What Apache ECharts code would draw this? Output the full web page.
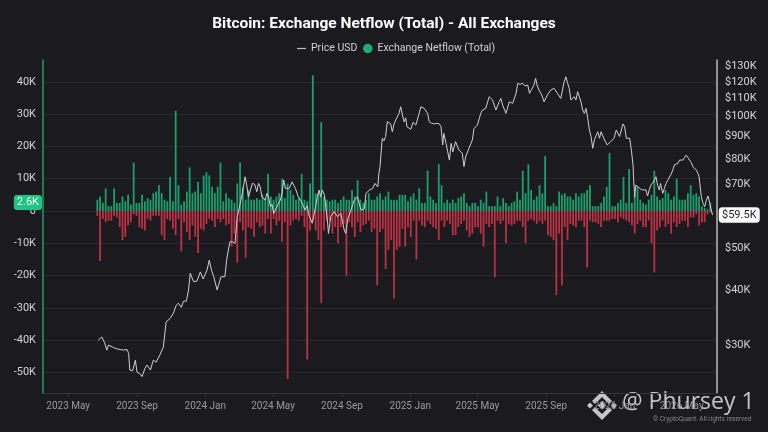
<!DOCTYPE html>
<html>
<head>
<meta charset="utf-8">
<script src="https://cdn.jsdelivr.net/npm/echarts@6.0.0/dist/echarts.min.js"></script>
<style>
html,body{margin:0;padding:0;background:#1b1b1f;}
#chart{width:768px;height:432px;}
</style>
</head>
<body>
<div id="chart"></div>
<script>
// ---------- DATA ----------
const chartTitle = 'Bitcoin: Exchange Netflow (Total) - All Exchanges';
const priceName = 'Price USD';
const netflowName = 'Exchange Netflow (Total)';

// x-axis tick labels
const xTickDates = ['2023-05-01','2023-09-01','2024-01-01','2024-05-01','2024-09-01','2025-01-01','2025-05-01','2025-09-01','2026-01-01','2026-05-01'];
const xRange = ['2023-03-17','2026-07-03'];
const netflowTicks = [-50000,-40000,-30000,-20000,-10000,0,10000,20000,30000,40000];
const priceTicks = [30000,40000,50000,70000,80000,90000,100000,110000,120000,130000];

// BTC price (USD)
const priceDates = ['2023-06-24','2023-06-30','2023-07-05','2023-07-09','2023-07-12','2023-07-15','2023-07-21','2023-07-27','2023-08-02','2023-08-08','2023-08-14','2023-08-17','2023-08-19','2023-08-24','2023-08-29','2023-09-01','2023-09-06','2023-09-10','2023-09-15','2023-09-19','2023-09-25','2023-09-30','2023-10-05','2023-10-12','2023-10-18','2023-10-23','2023-10-30','2023-11-05','2023-11-10','2023-11-14','2023-11-19','2023-11-23','2023-11-28','2023-12-02','2023-12-05','2023-12-11','2023-12-17','2023-12-23','2023-12-28','2024-01-04','2024-01-08','2024-01-12','2024-01-16','2024-01-22','2024-01-29','2024-02-05','2024-02-08','2024-02-11','2024-02-14','2024-02-19','2024-02-23','2024-02-27','2024-03-03','2024-03-07','2024-03-12','2024-03-15','2024-03-18','2024-03-21','2024-03-25','2024-03-29','2024-04-02','2024-04-05','2024-04-08','2024-04-11','2024-04-17','2024-04-20','2024-04-23','2024-04-26','2024-04-29','2024-05-02','2024-05-08','2024-05-14','2024-05-17','2024-05-20','2024-05-23','2024-05-26','2024-05-30','2024-06-04','2024-06-07','2024-06-10','2024-06-15','2024-06-19','2024-06-22','2024-06-27','2024-07-01','2024-07-04','2024-07-10','2024-07-16','2024-07-19','2024-07-22','2024-07-25','2024-07-28','2024-08-01','2024-08-03','2024-08-06','2024-08-08','2024-08-12','2024-08-18','2024-08-24','2024-08-30','2024-09-05','2024-09-08','2024-09-11','2024-09-17','2024-09-23','2024-09-29','2024-10-05','2024-10-11','2024-10-14','2024-10-20','2024-10-26','2024-10-30','2024-11-04','2024-11-06','2024-11-08','2024-11-12','2024-11-15','2024-11-18','2024-11-21','2024-11-27','2024-11-30','2024-12-03','2024-12-06','2024-12-12','2024-12-15','2024-12-18','2024-12-21','2024-12-24','2024-12-26','2025-01-02','2025-01-06','2025-01-11','2025-01-17','2025-01-20','2025-01-26','2025-02-01','2025-02-04','2025-02-08','2025-02-13','2025-02-18','2025-02-22','2025-02-25','2025-02-28','2025-03-02','2025-03-06','2025-03-09','2025-03-12','2025-03-15','2025-03-18','2025-03-20','2025-03-23','2025-03-29','2025-04-04','2025-04-07','2025-04-10','2025-04-16','2025-04-22','2025-04-25','2025-05-01','2025-05-07','2025-05-10','2025-05-16','2025-05-22','2025-05-28','2025-06-03','2025-06-09','2025-06-12','2025-06-15','2025-06-21','2025-06-27','2025-07-03','2025-07-09','2025-07-12','2025-07-16','2025-07-21','2025-07-25','2025-07-30','2025-08-02','2025-08-06','2025-08-10','2025-08-13','2025-08-16','2025-08-19','2025-08-24','2025-08-28','2025-09-03','2025-09-09','2025-09-15','2025-09-21','2025-09-27','2025-10-03','2025-10-06','2025-10-09','2025-10-12','2025-10-15','2025-10-21','2025-10-24','2025-10-27','2025-11-02','2025-11-05','2025-11-08','2025-11-11','2025-11-14','2025-11-17','2025-11-20','2025-11-23','2025-11-26','2025-11-29','2025-12-02','2025-12-05','2025-12-08','2025-12-14','2025-12-19','2025-12-25','2025-12-31','2026-01-04','2026-01-07','2026-01-10','2026-01-16','2026-01-19','2026-01-22','2026-01-28','2026-01-31','2026-02-03','2026-02-04','2026-02-06','2026-02-08','2026-02-12','2026-02-15','2026-02-18','2026-02-21','2026-02-26','2026-03-01','2026-03-04','2026-03-07','2026-03-10','2026-03-13','2026-03-16','2026-03-19','2026-03-22','2026-03-24','2026-03-28','2026-03-31','2026-04-03','2026-04-06','2026-04-09','2026-04-12','2026-04-15','2026-04-18','2026-04-21','2026-04-24','2026-04-27','2026-04-30','2026-05-03','2026-05-06','2026-05-09','2026-05-12','2026-05-15','2026-05-18','2026-05-21','2026-05-24','2026-05-27','2026-05-30','2026-06-01','2026-06-05','2026-06-08','2026-06-11','2026-06-14','2026-06-17','2026-06-20','2026-06-23','2026-06-25'];
const priceValues = [30800,31300,30400,29200,30000,29700,29600,29400,29300,29200,29300,28700,26300,26200,27700,26000,25800,25400,26500,27000,26300,27700,27400,28500,29700,33900,34500,35500,37000,37400,36600,37800,37800,40100,43800,41900,42000,44100,42500,44500,46900,44500,43000,40100,43000,43000,46900,49500,51700,51700,51200,59000,63000,66700,72800,69500,65500,67500,70300,70000,67300,70300,69000,65500,64400,66700,65500,62200,63000,60000,62200,64400,66700,71600,68500,69100,68500,70900,69600,68400,65500,64400,63300,61100,62500,59500,57000,62200,65500,67900,65500,67900,66000,62000,58000,54000,59000,60600,59000,60000,55000,54000,58000,61100,64400,65500,61100,61500,66700,67900,68500,70300,69000,74000,76800,89200,88000,90000,97300,96200,92300,96000,98200,101700,105300,101000,97300,99300,94800,93500,97000,95600,101700,105300,104400,101700,97300,96500,96200,96500,96200,94800,86100,91500,86800,83000,79500,86800,83000,83800,87600,83800,82400,76800,80900,84600,88400,93900,95600,101700,103500,104400,111000,109100,103500,108100,110000,106200,101700,108100,107200,113000,119100,118500,119100,117500,118000,113000,115500,118000,122300,117500,115000,112000,108100,112000,115000,116000,113000,110000,120100,123300,119500,116000,109100,111000,109100,114000,108100,103500,101700,104400,99300,93100,90000,84600,88400,90500,92300,89200,92300,88400,86100,87600,89200,93100,93900,90000,96200,94800,89200,89200,83800,77500,72200,65500,69700,69000,69100,68000,67300,67900,65800,68000,69700,70500,71500,72800,69500,67900,70300,66700,68500,70300,71500,72200,73800,75400,77500,76800,78100,79500,78800,79500,80500,81600,80800,79500,78500,76800,77200,75400,74100,72800,65500,63300,62200,64400,65800,63300,63600,59500];

// Exchange netflow (BTC), one inflow-side and one outflow-side bar per 5-day slot starting 2023-06-22
const netflowStart = '2023-06-22';
const netflowStepDays = 5;
const netInflow = [3500,4500,2500,7000,1500,1500,7000,2500,2500,4500,3000,5000,2000,15000,2500,2500,5000,3000,4000,3500,5500,6000,8000,5500,3500,3000,10500,3000,31000,8000,2000,3000,6000,13500,5500,6000,9000,5500,11000,12000,11000,7500,5500,7500,15000,3000,5500,4000,3500,2500,8500,15000,7500,3500,6500,3500,3500,4000,3500,5000,4000,11500,4500,3500,4500,5500,10000,4000,8500,6500,5000,3500,4000,11500,3500,3000,8500,42000,5500,5500,27500,4500,3500,3000,3500,3500,2500,3500,4500,3500,3500,6500,4500,9500,3500,2500,3500,5500,3500,3500,4500,5500,3500,4500,6000,3500,3500,3500,5000,5000,5000,3000,4500,5500,3500,7000,2500,2500,12500,4500,3500,2500,14500,8000,2500,3500,2500,3500,2500,4000,4500,5500,2500,1500,2500,2500,1500,3500,2500,6000,1500,1500,1500,4500,1500,4000,2500,1500,2500,3000,6000,3500,12500,5500,14500,6500,3500,4500,8000,5500,17000,1500,1500,2500,1500,6000,5000,5500,4500,4500,3500,5500,4500,5500,5500,6500,8000,1500,1500,1500,2500,4500,7500,18000,1500,1500,2500,3500,10500,2500,13000,2500,5000,7500,3500,2500,2000,3500,5000,12500,4500,3500,4000,6500,5500,3500,4500,10000,3500,3500,3500,5500,8000,5000,5500,4500,1500,1000,500,2600];
const netOutflow = [-1500,-15500,-2500,-3500,-3000,-3000,-1500,-2000,-5000,-9000,-8000,-4500,-3500,-1000,-1500,-5000,-5500,-6000,-2500,-3000,-1500,-1500,-1500,-7500,-9000,-2500,-3000,-5500,-7500,-2500,-12500,-3500,-6500,-9000,-4500,-8000,-13000,-5500,-6000,-4000,-2500,-3000,-5000,-2500,-3500,-2500,-4500,-4000,-11000,-7000,-16000,-3500,-6000,-14500,-5000,-5500,-8000,-3500,-5000,-4500,-7000,-2500,-7000,-2500,-4500,-3000,-9500,-3500,-52000,-4500,-3000,-2500,-3000,-1500,-5000,-46000,-6000,-3000,-6000,-9000,-28500,-6000,-3000,-3000,-7000,-5000,-10000,-5000,-4000,-20000,-3500,-5000,-8000,-3500,-6500,-4500,-4000,-3000,-6500,-5500,-23000,-6500,-5500,-18000,-12000,-9000,-27000,-12000,-11000,-5500,-11000,-5000,-8000,-3000,-15000,-3000,-4500,-5000,-3000,-4000,-5000,-5500,-9000,-3000,-5000,-3000,-4000,-7500,-7500,-5000,-4000,-3000,-6000,-8000,-7000,-5000,-5000,-7000,-11000,-4000,-5000,-4000,-20500,-3000,-4000,-3000,-10000,-4000,-4500,-4000,-3000,-3000,-5000,-10000,-3000,-2500,-3000,-4000,-3000,-4000,-3000,-7500,-8000,-9000,-26000,-7000,-23000,-5000,-9000,-4000,-4500,-5000,-3000,-3000,-5000,-17500,-3000,-3500,-3500,-4000,-5000,-3000,-3000,-3000,-2500,-2500,-3500,-2000,-2500,-3000,-3500,-4500,-7000,-4000,-3000,-5000,-5000,-3000,-10000,-19000,-6000,-5000,-3000,-5000,-4000,-7000,-3500,-5000,-4000,-3000,-3000,-5000,-2000,-2000,-1000,-4500,-3500,-3500,-1000,-500];

// ---------- BUILD ----------
const DAY = 86400000;
const ts = d => Date.parse(d + 'T00:00:00Z');
const startTs = ts(netflowStart);
const netData = [];
for (let i = 0; i < netInflow.length; i++) {
  const t = startTs + i * netflowStepDays * DAY;
  netData.push([t, netInflow[i]]);
  netData.push([t, netOutflow[i]]);
}
const priceData = priceDates.map((d, i) => [ts(d), priceValues[i]]);
const lastNet = netInflow[netInflow.length - 1];
const lastPrice = priceValues[priceValues.length - 1];
const xTicks = xTickDates.map(ts);
const MONTHS = ['Jan','Feb','Mar','Apr','May','Jun','Jul','Aug','Sep','Oct','Nov','Dec'];

const GREEN = '#1ec486';
const BAR_GREEN = '#19b87b';
const BAR_RED = '#d8354a';
const FONT = 'Roboto, Inter, "Noto Sans", sans-serif';
const WM = 'rgba(222,222,222,0.88)';

const chart = echarts.init(document.getElementById('chart'), null, {renderer: 'canvas'});
chart.setOption({
  backgroundColor: '#1b1b1f',
  animation: false,
  textStyle: {fontFamily: FONT},
  title: {
    text: chartTitle, left: 'center', top: 11,
    textStyle: {color: '#ffffff', fontSize: 15.5, fontWeight: 'bold', fontFamily: FONT}
  },
  legend: [
    {data: [{name: priceName, icon: 'rect', itemStyle: {color: '#bdbdbd'}}], left: 292, top: 38,
     itemWidth: 9, itemHeight: 1.2, textStyle: {color: '#d0d0d0', fontSize: 10.5, fontFamily: FONT}, selectedMode: false},
    {data: [{name: netflowName, icon: 'circle', itemStyle: {color: GREEN}}], left: 358, top: 38,
     itemWidth: 9.5, itemHeight: 9.5, textStyle: {color: '#d0d0d0', fontSize: 10.5, fontFamily: FONT}, selectedMode: false}
  ],
  grid: {left: 43, right: 51, top: 60, bottom: 39, containLabel: false},
  xAxis: {
    type: 'value',
    min: ts(xRange[0]), max: ts(xRange[1]),
    axisLine: {onZero: false, lineStyle: {color: '#34343b', width: 1}},
    axisTick: {show: true, customValues: xTicks, length: 4, lineStyle: {color: '#34343b'}},
    axisLabel: {
      customValues: xTicks, color: '#9a9a9a', fontSize: 10, margin: 8,
      formatter: v => { const d = new Date(v); return d.getUTCFullYear() + ' ' + MONTHS[d.getUTCMonth()]; }
    },
    splitLine: {show: false}
  },
  yAxis: [
    {
      type: 'value', position: 'left',
      min: -56350, max: 46750,
      axisLine: {show: true, lineStyle: {color: '#1f9e68', width: 1.5}},
      axisTick: {show: false, customValues: netflowTicks},
      axisLabel: {customValues: netflowTicks, color: '#d4d4d4', fontSize: 11, margin: 7,
        formatter: v => v === 0 ? '0' : (v / 1000) + 'K'},
      splitLine: {show: true, lineStyle: {color: '#26262c', width: 1}},
      axisPointer: {
        show: true, status: 'show', value: lastNet, snap: false, triggerTooltip: false,
        lineStyle: {opacity: 0},
        label: {show: true, backgroundColor: GREEN, color: '#ffffff', fontSize: 11, padding: [2, 3, 2, 3], margin: 1,
          formatter: p => (p.value / 1000).toFixed(1) + 'K'}
      }
    },
    {
      type: 'log', position: 'right', logBase: 10,
      min: 23300, max: 134700,
      axisLine: {show: true, lineStyle: {color: '#bdbdbd', width: 1.5}},
      axisTick: {show: false, customValues: priceTicks},
      axisLabel: {customValues: priceTicks, color: '#d4d4d4', fontSize: 11, margin: 8,
        formatter: v => '$' + Math.round(v / 1000) + 'K'},
      splitLine: {show: false},
      minorSplitLine: {show: false},
      axisPointer: {
        show: true, status: 'show', value: lastPrice, snap: false, triggerTooltip: false,
        lineStyle: {opacity: 0},
        label: {show: true, backgroundColor: '#ffffff', color: '#1b1b1f', fontSize: 11, padding: [2, 3, 2, 3], margin: 2,
          borderColor: '#888', borderWidth: 0.5,
          formatter: p => '$' + (p.value / 1000).toFixed(1) + 'K'}
      }
    }
  ],
  series: [
    {
      name: netflowName, type: 'bar', xAxisIndex: 0, yAxisIndex: 0,
      data: netData, barWidth: 1.8, large: false,
      itemStyle: {color: p => (p.value[1] >= 0 ? BAR_GREEN : BAR_RED), opacity: 0.85},
      z: 2
    },
    {
      name: priceName, type: 'line', xAxisIndex: 0, yAxisIndex: 1,
      data: priceData, showSymbol: false, symbol: 'none',
      lineStyle: {color: '#cfcfcf', width: 1},
      itemStyle: {color: '#cfcfcf'},
      z: 3
    }
  ],
  graphic: [
    {type: 'group', left: 587, top: 391, children: [
      {type: 'polygon', shape: {points: [[15,0],[25,10],[22,13],[15,6],[8,13],[5,10]]}, style: {fill: WM}},
      {type: 'polygon', shape: {points: [[15,29],[25,19],[22,16],[15,23],[8,16],[5,19]]}, style: {fill: WM}},
      {type: 'polygon', shape: {points: [[15,10.5],[19,14.5],[15,18.5],[11,14.5]]}, style: {fill: WM}},
      {type: 'polygon', shape: {points: [[3,11.5],[6,14.5],[3,17.5],[0,14.5]]}, style: {fill: WM}},
      {type: 'polygon', shape: {points: [[27,11.5],[30,14.5],[27,17.5],[24,14.5]]}, style: {fill: WM}}
    ]},
    {type: 'text', left: 622, top: 391, style: {text: '@ Phursey 1', fill: WM, font: '23px "Open Sans", "Noto Sans", sans-serif'}},
    {type: 'text', left: 653, top: 416, style: {text: '© CryptoQuant. All rights reserved', fill: 'rgba(160,160,160,0.8)', font: '6.5px Roboto, sans-serif'}}
  ]
});
</script>
</body>
</html>
